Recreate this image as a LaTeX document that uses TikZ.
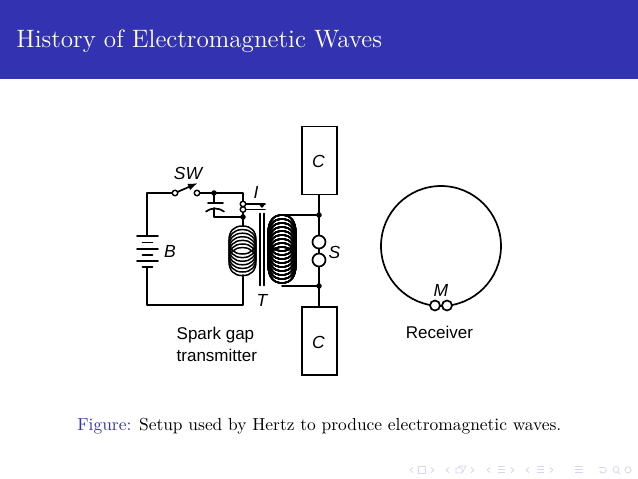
\documentclass[tikz,border=0pt]{standalone}
\usepackage{fontspec}
\usetikzlibrary{arrows.meta}
\newfontfamily\labelfont{Liberation Sans}
\definecolor{barblue}{RGB}{51,51,178}
\definecolor{navblue}{RGB}{214,214,241}
\newcommand{\coilloop}[4]{% cx cy rx ry
  \draw[coil] (#1-#3,#2) .. controls (#1-#3,#2-0.62*#4) and (#1-0.66*#3,#2-#4) .. (#1,#2-#4)
    .. controls (#1+0.66*#3,#2-#4) and (#1+#3,#2-0.62*#4) .. (#1+#3,#2)
    .. controls (#1+#3,#2+0.62*#4) and (#1+0.66*#3,#2+#4) .. (#1,#2+#4)
    .. controls (#1-0.66*#3,#2+#4) and (#1-#3,#2+0.62*#4) .. (#1-#3,#2) -- cycle;}
\tikzset{
  wire/.style={line width=1.7pt,black,line cap=round,line join=round},
  coil/.style={line width=1.5pt,black},
  contact/.style={circle,draw=black,fill=white,line width=1.4pt,inner sep=0pt,minimum size=5.5pt},
  gap/.style={circle,draw=black,fill=white,line width=1.7pt,inner sep=0pt,minimum size=13pt},
  rxgap/.style={circle,draw=black,fill=white,line width=1.7pt,inner sep=0pt,minimum size=10pt},
  joint/.style={circle,fill=black,inner sep=0pt,minimum size=5.5pt},
  capbox/.style={draw=black,line width=1.7pt,fill=white,minimum width=35pt,minimum height=68pt,inner sep=0pt},
  sym/.style={font=\labelfont\itshape\fontsize{17.5}{17.5}\selectfont,inner sep=0pt},
  lab/.style={font=\labelfont\fontsize{17}{22}\selectfont,inner sep=0pt,align=left},
  navsym/.style={draw=navblue,line width=0.8pt}
}
\begin{document}
\begin{tikzpicture}[x=1pt,y=-1pt]
\useasboundingbox (0,0) rectangle (638,479);
\fill[white] (0,0) rectangle (638,479);
\fill[barblue] (0,0) rectangle (638,79);
\node[anchor=base west,inner sep=0pt,white,scale=1.745,font=\fontsize{14.4}{17}\selectfont] (title) at (16,47) {History of Electromagnetic Waves};

% capacitor boxes and spark gap
\node[capbox] (c1) at (319.5,160.5) {};
\node[capbox] (c2) at (319.5,341) {};
\coordinate (jt) at (319,215);
\coordinate (jb) at (319,286);
\node[gap] (s1) at (319,242) {};
\node[gap] (s2) at (319,260) {};
\draw[wire] (s1 |- c1.south) -- (s1);
\draw[wire] (s1) -- (s2);
\draw[wire] (s2) -- (s2 |- c2.north);
\node[sym] (cl1) at (318.5,161) {C};
\node[sym] (cl2) at (318.5,342) {C};
\node[sym] (sl) at (334.5,252) {S};

% battery
\coordinate (swl) at (175,193);
\coordinate (swr) at (197,193);
\draw[wire] (147,236) -- (147,193) -- (swl);
\draw[wire] (147,267) -- (147,305) -- (243,305) -- (243,275);
\foreach \yy/\ww in {236/10.5,242.5/5,249/10.5,255/5,261/10.5,267/5}
  \draw[wire] (147.5-\ww,\yy) -- (147.5+\ww,\yy);
\node[sym] (bl) at (170,251) {B};

% switch
\draw[wire,-{Latex[length=10pt,width=7pt]}] (175,193) -- (198,183);
\draw[wire] (swr) -- (243,193) -- (243,204);
\node[contact] (k1) at (swl) {};
\node[contact] (k2) at (swr) {};
\node[sym] (swlab) at (188,173) {SW};

% condenser
\coordinate (cj) at (214,193);
\coordinate (cb) at (243,217);
\draw[wire] (cj) -- (214,203);
\draw[wire] (208,203) -- (223,203);
\draw[wire] (206,211.5) .. controls (211,207.5) and (219,207.5) .. (224,211.5);
\draw[wire] (214,208) -- (214,217) -- (cb);
\node[joint] at (cj) {};

% interrupter
\draw[wire] (243,204) -- (265,204);
\draw[wire] (243,209.5) -- (265,209.5);
\fill (258.5,204) -- (265.5,204) -- (262,208) -- cycle;
\draw[wire] (243,209) -- (cb) -- (243,226);
\node[contact] (i1) at (243,204) {};
\node[contact] (i2) at (243,209.5) {};
\node[joint] at (cb) {};
\node[sym] (il) at (256,192) {I};

% core
\draw[wire] (260,213.5) -- (260,285.5);
\draw[wire] (264,213.5) -- (264,285.5);
\node[sym] (tl) at (262,300) {T};

% primary coil
\foreach \yy in {240,243.6,...,262}
  \coilloop{242.5}{\yy}{13.5}{14}
% secondary coil
\foreach \yy in {233,237,...,268}
  \coilloop{282}{\yy}{13.8}{18}
\draw[wire] (282,215) -- (jt);
\draw[wire] (282,286) -- (jb);
\node[joint] at (jt) {};
\node[joint] at (jb) {};

% receiver
\coordinate (rc) at (441,246);
\draw[wire] (rc) circle (60);
\node[rxgap] (m1) at (435,305.5) {};
\node[rxgap] (m2) at (447,305.5) {};
\node[sym] (ml) at (441,290) {M};

% text labels
\node[lab,anchor=base west] (tx) at (176.5,339) {Spark gap};
\node[lab,anchor=base west] (tx2) at (176.5,361) {transmitter};
\node[lab,anchor=base] (rx) at (439.5,338.5) {Receiver};

% caption
\node[anchor=base west,inner sep=0pt,scale=1.742,font=\fontsize{10}{12}\selectfont] (cap) at (77,430)
  {\textcolor{barblue}{Figure:} Setup used by Hertz to produce electromagnetic waves.};

% navigation symbols
\draw[navsym] (413,467.5) -- (410,470) -- (413,472.5);
\draw[navsym] (418,466.5) rectangle (425,473);
\draw[navsym] (431,467.5) -- (434,470) -- (431,472.5);
\draw[navsym] (449,467.5) -- (446,470) -- (449,472.5);
\draw[navsym] (456,473) rectangle (462,468) (458,468) -- (460,466) -- (466,466) -- (462,473);
\draw[navsym] (471,467.5) -- (474,470) -- (471,472.5);
\draw[navsym] (490,467.5) -- (487,470) -- (490,472.5);
\draw[navsym] (498,466.5) -- (505,466.5) (498,469.5) -- (505,469.5) (498,472.5) -- (505,472.5);
\draw[navsym] (511,467.5) -- (514,470) -- (511,472.5);
\draw[navsym] (529,467.5) -- (526,470) -- (529,472.5);
\draw[navsym] (537,466.5) -- (544,466.5) (537,469.5) -- (544,469.5) (537,472.5) -- (544,472.5);
\draw[navsym] (550,467.5) -- (553,470) -- (550,472.5);
\draw[navsym] (575,466.5) -- (583,466.5) (575,469.5) -- (583,469.5) (575,472.5) -- (583,472.5);
\draw[navsym] (599,467.5) -- (604,467.5) .. controls (607,467.5) and (607,473) .. (603,473) .. controls (601,473) and (600,472) .. (600,471);
\draw[navsym] (616,469.5) circle (3) (618,472) -- (620,474);
\draw[navsym] (625,471) .. controls (625,465.5) and (631,465.5) .. (631,470) .. controls (631,473) and (627,473.5) .. (625.5,472);
\end{tikzpicture}
\end{document}
